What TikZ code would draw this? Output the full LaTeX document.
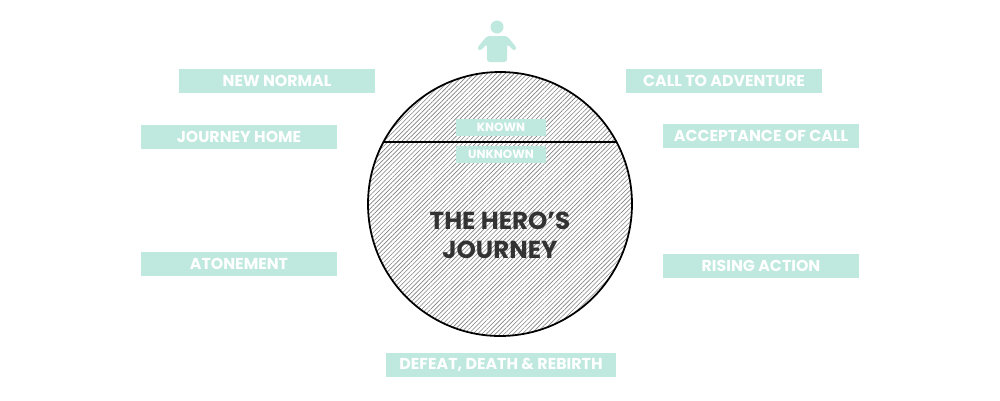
\documentclass[tikz,border=0pt]{standalone}
\usepackage{fontspec}
\setmainfont{Poppins}
\usetikzlibrary{patterns.meta}
\definecolor{mint}{HTML}{BFE8DF}
\definecolor{dark}{HTML}{333333}
\tikzset{lab/.style={fill=mint,text=white,font=\bfseries\fontsize{9}{10}\selectfont,inner sep=0pt,anchor=center},
small/.style={lab,font=\bfseries\fontsize{6.8}{8}\selectfont}}
\begin{document}
\begin{tikzpicture}[x=0.02cm,y=-0.02cm]
\useasboundingbox (0,0) rectangle (1000,400);
\fill[pattern={Lines[distance=1.8pt,angle=45,line width=0.35pt]},pattern color=gray] (500,204) circle[radius=132];
\draw[line width=1pt] (500,204) circle[radius=132] coordinate (c);
\coordinate (l) at (383.5,142); \coordinate (r) at (616.5,142);
\draw[line width=1pt] (l) -- (r);
\node[text=dark,font=\bfseries\fontsize{14}{16.5}\selectfont,align=center] (t) at (500,235) {THE HERO’S\\JOURNEY};
\node[lab,minimum width=196*0.02cm,minimum height=24*0.02cm] (a) at (277,81) {NEW NORMAL};
\node[lab,minimum width=196*0.02cm,minimum height=24*0.02cm] (b) at (724,81) {CALL TO ADVENTURE};
\node[lab,minimum width=196*0.02cm,minimum height=24*0.02cm] (d) at (239,137) {JOURNEY HOME};
\node[lab,minimum width=196*0.02cm,minimum height=24*0.02cm] (e) at (761,136) {ACCEPTANCE OF CALL};
\node[lab,minimum width=196*0.02cm,minimum height=24*0.02cm] (f) at (239,264) {ATONEMENT};
\node[lab,minimum width=196*0.02cm,minimum height=24*0.02cm] (g) at (761,266) {RISING ACTION};
\node[lab,minimum width=230*0.02cm,minimum height=24*0.02cm] (h) at (501,365) {DEFEAT, DEATH \& REBIRTH};
\node[small,minimum width=90*0.02cm,minimum height=17*0.02cm] (k) at (501,127.5) {KNOWN};
\node[small,minimum width=90*0.02cm,minimum height=17*0.02cm] (u) at (501,154.5) {UNKNOWN};
% person
\fill[mint] (497,27) circle[radius=6.5];
\fill[mint,rounded corners=1.5] (487,36) -- (507,36) -- (517,48) -- (514,51) -- (507,44) -- (507,62) -- (487,62) -- (487,44) -- (480,51) -- (477,48) -- cycle;
\end{tikzpicture}
\end{document}
